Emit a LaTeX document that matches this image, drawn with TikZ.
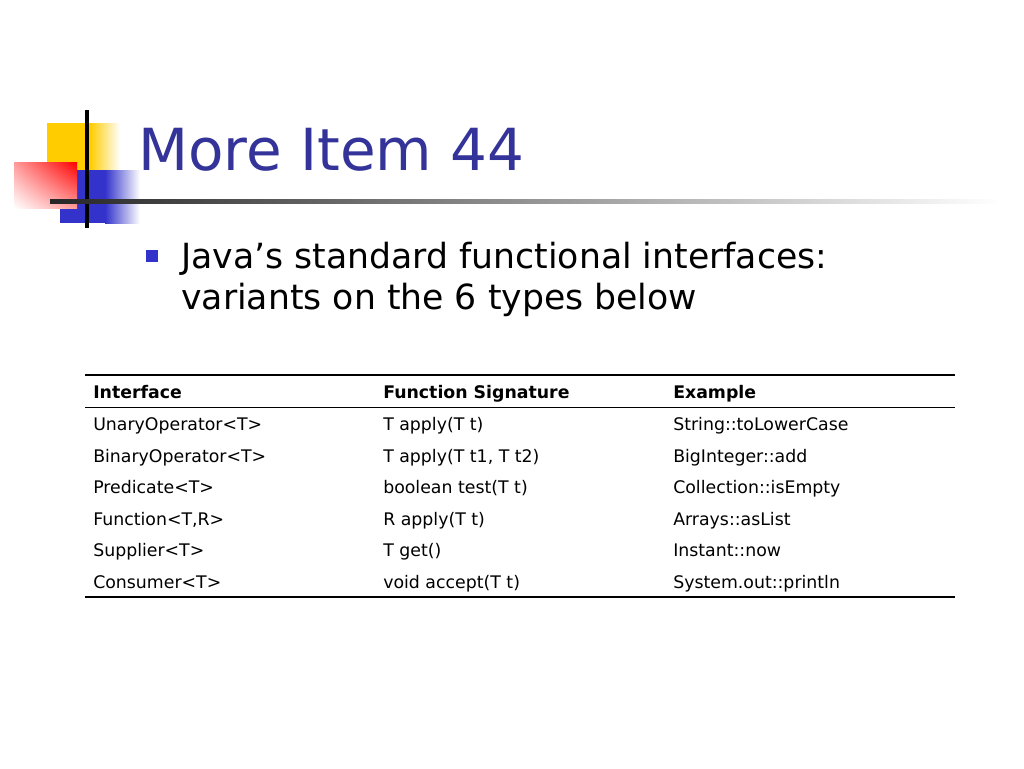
\documentclass[tikz,border=0pt]{standalone}
\usepackage{fontspec}
\setmainfont{DejaVu Sans}
\usetikzlibrary{fadings,shadings}
\definecolor{ttl}{RGB}{51,51,153}
\definecolor{bsq}{RGB}{51,51,204}
\definecolor{ylw}{RGB}{255,204,0}
\begin{document}
\begin{tikzpicture}[x=0.75pt,y=-0.75pt,
  cell/.style={anchor=base west,inner sep=0pt,font=\fontsize{13}{15}\selectfont},
  hcell/.style={cell,font=\fontsize{13}{15}\selectfont\bfseries}]
\useasboundingbox (0,0) rectangle (1024,768);
\fill[white] (0,0) rectangle (1024,768);
% decoration
\fill[ylw] (47,123) rectangle (90,170);
\shade[left color=ylw,right color=white] (90,123) rectangle (120,170);
\fill[bsq] (60,170) rectangle (105,223);
\shade[left color=bsq,right color=white] (105,170) rectangle (140,223);
\shade[upper right=red,lower left=white,upper left=red!40,lower right=red!40] (14,162) rectangle (77,208);
\draw[line width=3pt] (87,110) -- (87,228);
\shade[left color=black!85,right color=white] (50,199.5) rectangle (1000,203);
% title
\node[anchor=base west,inner sep=0pt,text=ttl,font=\fontsize{43.5}{48}\selectfont] (title) at (138,170) {More Item 44};
% bullet
\fill[bsq] (146,250) rectangle (158,262) coordinate (b);
\node[anchor=base west,inner sep=0pt,font=\fontsize{26}{32}\selectfont] (t1) at (181,268) {Java’s standard functional interfaces:};
\node[anchor=base west,inner sep=0pt,font=\fontsize{26}{32}\selectfont] (t2) at (181,309) {variants on the 6 types below};
% table
\draw[line width=1pt] (85,375) -- (955,375);
\draw[line width=0.6pt] (85,407) -- (955,407);
\draw[line width=1pt] (85,597) -- (955,597);
\node[hcell] (h1) at (93,398) {Interface};
\node[hcell] (h2) at (383,398) {Function Signature};
\node[hcell] (h3) at (673,398) {Example};
\foreach \y/\a/\b/\c in {430/UnaryOperator<T>/T apply(T t)/String::toLowerCase,
  462/BinaryOperator<T>/{T apply(T t1, T t2)}/BigInteger::add,
  493/Predicate<T>/boolean test(T t)/Collection::isEmpty,
  525/{Function<T,R>}/R apply(T t)/Arrays::asList,
  556/Supplier<T>/T get()/Instant::now,
  588/Consumer<T>/void accept(T t)/System.out::println}{
  \node[cell] at (93,\y) {\a};
  \node[cell] at (383,\y) {\b};
  \node[cell] at (673,\y) {\c};
}
\end{tikzpicture}
\end{document}
